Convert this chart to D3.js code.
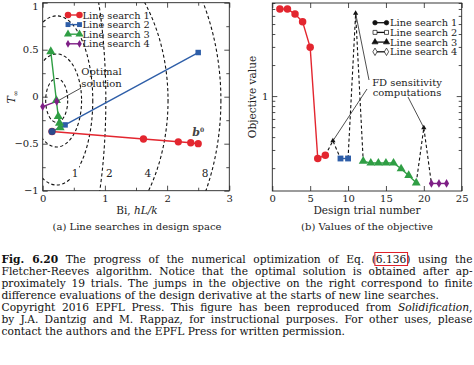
<!DOCTYPE html>
<html>
<head>
<meta charset="utf-8">
<script src="https://cdn.jsdelivr.net/npm/d3@7"></script>
<style>
  body { margin: 0; background: #fff; }
  svg { display: block; font-family: "DejaVu Serif", serif; }
</style>
</head>
<body>
<div id="fig"></div>
<script>
// ---------- data, panel (a): design space ----------
const ls1 = [[2.5, -0.5], [2.38, -0.49], [2.18, -0.48], [1.62, -0.45], [0.15, -0.37]];
const ls2 = [[0.15, -0.37], [0.36, -0.30], [2.5, 0.47]];
const ls3 = [[0.28, -0.33], [0.27, -0.28], [0.25, -0.21], [0.22, -0.04], [0.13, 0.48]];
const ls4 = [[0.225, -0.05], [0.0, -0.105]];
const contourCenter = [0.225, -0.04];
const contourRx = [0.177, 0.40, 0.58, 0.79, 1.79, 2.64];
const contourRy = [0.234, 0.495, 0.90, 2.0, 1.7, 2.3];
const contourLabels = ["", "", "1", "2", "4", "8"];
const contourLabelX = [null, null, 0.52, 1.07, 1.69, 2.61];
const contourLabelY = -0.81;
const optimum = [0.225, -0.05];

// ---------- data, panel (b): objective ----------
const trial = [1, 2, 3, 4, 5, 6, 7, 8, 9, 10, 11, 12, 13, 14, 15, 16, 17, 18, 19, 20, 21, 22, 23];
const objective = [7.0, 7.0, 6.25, 5.26, 2.97, 0.248, 0.267, 0.368, 0.248, 0.248, 6.35, 0.234,
                   0.224, 0.224, 0.224, 0.224, 0.197, 0.170, 0.144, 0.493, 0.142, 0.142, 0.142];
// 0 = finite-difference sensitivity evaluation
const search = [1, 1, 1, 1, 1, 1, 1, 0, 2, 2, 0, 3, 3, 3, 3, 3, 3, 3, 3, 0, 4, 4, 4];

const seriesNames = ["Line search 1", "Line search 2", "Line search 3", "Line search 4"];
const colors = ["#e3262f", "#2e5ea8", "#2f9e44", "#7e1f86"];
const symbols = [d3.symbolCircle, d3.symbolSquare, d3.symbolTriangle, d3.symbolDiamond];

const ticksAx = [0, 1, 2, 3], minorAx = [0.5, 1.5, 2.5];
const ticksAy = [-1, -0.5, 0, 0.5, 1], minorAy = [-0.75, -0.25, 0.25, 0.75];
const ticksBx = [0, 5, 10, 15, 20, 25];
const ticksBy = [1], minorBy = [0.2, 0.3, 0.4, 0.5, 0.6, 0.7, 0.8, 0.9, 2, 3, 4, 5, 6, 7, 8];

const caption = [
  [["Fig. 6.20", "b"], [" The progress of the numerical optimization of Eq. (", ""], ["6.136", "box"], [") using the", ""]],
  [["Fletcher-Reeves algorithm. Notice that the optimal solution is obtained after ap-", ""]],
  [["proximately 19 trials. The jumps in the objective on the right correspond to finite", ""]],
  [["difference evaluations of the design derivative at the starts of new line searches.", ""]],
  [["Copyright 2016 EPFL Press. This figure has been reproduced from ", ""], ["Solidification", "i"], [",", ""]],
  [["by J.A. Dantzig and M. Rappaz, for instructional purposes. For other uses, please", ""]],
  [["contact the authors and the EPFL Press for written permission.", ""]]
];
const justified = [true, true, true, false, true, true, false];

const W = 474, H = 365;
const svg = d3.select("#fig").append("svg").attr("width", W).attr("height", H);

const tickStyle = g => {
  g.select(".domain").remove();
  g.selectAll(".tick line").attr("stroke", "#222").attr("stroke-width", 0.8);
  g.selectAll(".tick text").attr("fill", "#222").attr("font-size", 10).attr("font-family", "DejaVu Serif, serif");
};

function frame(g, x, y, majX, minX, majY, minY, fmtY) {
  const [x0, x1] = x.range(), [y0, y1] = y.range();
  g.append("g").attr("transform", `translate(0,${y0})`)
    .call(d3.axisBottom(x).tickValues(majX).tickSize(-5).tickPadding(4).tickFormat(d3.format("~g"))).call(tickStyle);
  g.append("g").attr("transform", `translate(0,${y1})`)
    .call(d3.axisTop(x).tickValues(majX).tickSize(-5).tickFormat("")).call(tickStyle);
  if (minX.length) {
    g.append("g").attr("transform", `translate(0,${y0})`)
      .call(d3.axisBottom(x).tickValues(minX).tickSize(-3).tickFormat("")).call(tickStyle);
    g.append("g").attr("transform", `translate(0,${y1})`)
      .call(d3.axisTop(x).tickValues(minX).tickSize(-3).tickFormat("")).call(tickStyle);
  }
  g.append("g").attr("transform", `translate(${x0},0)`)
    .call(d3.axisLeft(y).tickValues(majY).tickSize(-5).tickPadding(4).tickFormat(fmtY)).call(tickStyle)
    // keep the topmost label inside the picture
    .selectAll(".tick text").attr("dy", d => y(d) < 6 ? "0.68em" : "0.32em");
  g.append("g").attr("transform", `translate(${x1},0)`)
    .call(d3.axisRight(y).tickValues(majY).tickSize(-5).tickFormat("")).call(tickStyle);
  g.append("g").attr("transform", `translate(${x0},0)`)
    .call(d3.axisLeft(y).tickValues(minY).tickSize(-3).tickFormat("")).call(tickStyle);
  g.append("g").attr("transform", `translate(${x1},0)`)
    .call(d3.axisRight(y).tickValues(minY).tickSize(-3).tickFormat("")).call(tickStyle);
  g.append("rect").attr("x", x0).attr("y", y1).attr("width", x1 - x0).attr("height", y0 - y1)
    .attr("fill", "none").attr("stroke", "#222").attr("stroke-width", 0.9);
}

// ================= panel (a) =================
const xa = d3.scaleLinear().domain([0, 3]).range([42.7, 229.3]);
const ya = d3.scaleLinear().domain([-1, 1]).range([190.7, 2.7]);
const ga = svg.append("g");

ga.append("clipPath").attr("id", "clipA").append("rect")
  .attr("x", xa(0)).attr("y", ya(1)).attr("width", xa(3) - xa(0)).attr("height", ya(-1) - ya(1));

const cont = ga.append("g").attr("clip-path", "url(#clipA)");
cont.selectAll("ellipse").data(contourRx).join("ellipse")
  .attr("cx", xa(contourCenter[0])).attr("cy", ya(contourCenter[1]))
  .attr("rx", d => xa(contourCenter[0] + d) - xa(contourCenter[0]))
  .attr("ry", (d, i) => ya(contourCenter[1]) - ya(contourCenter[1] + contourRy[i]))
  .attr("fill", "none").attr("stroke", "#111").attr("stroke-width", 1.1).attr("stroke-dasharray", "3.2,2.4");

contourLabels.forEach((t, i) => {
  if (!t) return;
  const cx = xa(contourLabelX[i]), cy = ya(contourLabelY);
  cont.append("rect").attr("x", cx - 4).attr("y", cy - 7).attr("width", 8).attr("height", 13).attr("fill", "#fff");
  cont.append("text").attr("x", cx).attr("y", cy + 4).attr("text-anchor", "middle")
    .attr("font-size", 10.5).attr("fill", "#222").text(t);
});

frame(ga, xa, ya, ticksAx, minorAx, ticksAy, minorAy, d3.format("~g"));

const lineA = d3.line().x(d => xa(d[0])).y(d => ya(d[1]));
const markSize = [42, 30, 36, 22];
[ls1, ls2, ls3, ls4].forEach((pts, i) => {
  ga.append("path").datum(pts).attr("d", lineA).attr("fill", "none")
    .attr("stroke", colors[i]).attr("stroke-width", 1.4);
});
[ls1, ls2, ls3, ls4].forEach((pts, i) => {
  // the start of line search 2 is drawn as a dark round marker in the reference
  const isStart = j => i === 1 && j === 0;
  ga.selectAll(null).data(pts).join("path")
    .attr("transform", d => `translate(${xa(d[0])},${ya(d[1])})`)
    .attr("d", (d, j) => d3.symbol(isStart(j) ? d3.symbolCircle : symbols[i], isStart(j) ? 40 : markSize[i])())
    .attr("fill", (d, j) => isStart(j) ? "#2b4a8c" : colors[i]);
});

// b0 label
ga.append("text").attr("x", xa(ls1[0][0])).attr("y", ya(ls1[0][1]) - 8)
  .attr("text-anchor", "middle").attr("font-size", 11).attr("font-style", "italic").attr("font-weight", "bold").attr("fill", "#444")
  .text("b").append("tspan").attr("dy", -4).attr("font-size", 6).attr("font-style", "normal").text("0");

// optimal solution annotation
ga.append("line").attr("x1", 81).attr("y1", 88).attr("x2", xa(optimum[0]) + 2).attr("y2", ya(optimum[1]) - 1)
  .attr("stroke", "#222").attr("stroke-width", 0.8);
ga.append("text").attr("x", 101.5).attr("y", 75).attr("text-anchor", "middle").attr("font-size", 10).attr("fill", "#222").text("Optimal");
ga.append("text").attr("x", 101.5).attr("y", 87).attr("text-anchor", "middle").attr("font-size", 10).attr("fill", "#222").text("solution");

// legend (a)
const legA = ga.append("g");
seriesNames.forEach((n, i) => {
  const yy = 15 + i * 9.6;
  legA.append("line").attr("x1", 68).attr("x2", 79.5).attr("y1", yy).attr("y2", yy).attr("stroke", colors[i]).attr("stroke-width", 1.4);
  [68, 79.5].forEach(xx => legA.append("path").attr("transform", `translate(${xx},${yy})`)
    .attr("d", d3.symbol(symbols[i], markSize[i] * 0.8)()).attr("fill", colors[i]));
  legA.append("text").attr("x", 82.5).attr("y", yy + 3.5).attr("font-size", 9.8).attr("fill", "#222").text(n);
});

// axis labels (a)
const xlab = ga.append("text").attr("x", 137).attr("y", 214).attr("text-anchor", "middle").attr("font-size", 10.5).attr("fill", "#222");
xlab.append("tspan").text("Bi, ");
xlab.append("tspan").attr("font-style", "italic").text("hL/k");
const ylab = ga.append("text").attr("transform", "translate(15,97) rotate(-90)").attr("text-anchor", "middle")
  .attr("font-size", 11).attr("fill", "#222");
ylab.append("tspan").attr("font-style", "italic").text("T");
ylab.append("tspan").attr("font-size", 7).attr("dy", 2.5).text("∞");
ga.append("text").attr("x", 137).attr("y", 230).attr("text-anchor", "middle").attr("font-size", 10).attr("fill", "#222")
  .text("(a) Line searches in design space");

// ================= panel (b) =================
const xb = d3.scaleLinear().domain([0, 25]).range([272.3, 461.7]);
const yb = d3.scaleLog().domain([0.12, 8]).range([191, 3]);
const gb = svg.append("g");

frame(gb, xb, yb, ticksBx, [], ticksBy, minorBy, d3.format("~g"));

const lineB = d3.line().x(d => xb(d.n)).y(d => yb(d.v));
const pts = trial.map((n, i) => ({ n, v: objective[i], s: search[i] }));

// finite-difference jumps (dashed)
pts.forEach((p, i) => {
  if (p.s !== 0) return;
  gb.append("path").datum([pts[i - 1], p, pts[i + 1]]).attr("d", lineB).attr("fill", "none")
    .attr("stroke", "#111").attr("stroke-width", 1.1).attr("stroke-dasharray", "3.2,2.4");
});
[1, 2, 3, 4].forEach(s => {
  const seg = pts.filter(p => p.s === s);
  gb.append("path").datum(seg).attr("d", lineB).attr("fill", "none").attr("stroke", colors[s - 1]).attr("stroke-width", 1.4);
  gb.selectAll(null).data(seg).join("path")
    .attr("transform", d => `translate(${xb(d.n)},${yb(d.v)})`)
    .attr("d", d3.symbol(symbols[s - 1], [44, 34, 34, 22][s - 1])).attr("fill", colors[s - 1]);
});
gb.selectAll(null).data(pts.filter(p => p.s === 0)).join("path")
  .attr("transform", d => `translate(${xb(d.n)},${yb(d.v)})`)
  .attr("d", d3.symbol(d3.symbolTriangle, 12)).attr("fill", "#111");

// FD annotation
const fd = pts.filter(p => p.s === 0);
const fdStart = [[367, 89], [369, 80], [408, 97]];
fd.forEach((p, i) => {
  gb.append("line").attr("x1", fdStart[i][0]).attr("y1", fdStart[i][1]).attr("x2", xb(p.n)).attr("y2", yb(p.v))
    .attr("stroke", "#222").attr("stroke-width", 0.8);
});
gb.append("rect").attr("x", 370).attr("y", 75).attr("width", 72).attr("height", 22).attr("fill", "#fff");
gb.append("text").attr("x", 407).attr("y", 86).attr("text-anchor", "middle").attr("font-size", 10).attr("fill", "#222").text("FD sensitivity");
gb.append("text").attr("x", 407).attr("y", 96).attr("text-anchor", "middle").attr("font-size", 10).attr("fill", "#222").text("computations");

// legend (b)
const legB = gb.append("g");
const openSym = [false, true, false, true];
seriesNames.forEach((n, i) => {
  const yy = 22.7 + i * 9.7;
  legB.append("line").attr("x1", 375).attr("x2", 386.5).attr("y1", yy).attr("y2", yy).attr("stroke", "#111").attr("stroke-width", 1.3);
  [375, 386.5].forEach(xx => legB.append("path").attr("transform", `translate(${xx},${yy})`)
    .attr("d", d3.symbol(symbols[i], 16)()).attr("fill", openSym[i] ? "#fff" : "#111").attr("stroke", "#111").attr("stroke-width", 0.7));
  legB.append("text").attr("x", 390).attr("y", yy + 3.5).attr("font-size", 9.8).attr("fill", "#222").text(n);
});

gb.append("text").attr("x", 367).attr("y", 214).attr("text-anchor", "middle").attr("font-size", 10.5).attr("fill", "#222").text("Design trial number");
gb.append("text").attr("transform", "translate(256,97) rotate(-90)").attr("text-anchor", "middle")
  .attr("font-size", 10.5).attr("fill", "#222").text("Objective value");
gb.append("text").attr("x", 367).attr("y", 230).attr("text-anchor", "middle").attr("font-size", 10).attr("fill", "#222")
  .text("(b) Values of the objective");

// ================= caption =================
const gc = svg.append("g").attr("fill", "#111");
const lines = caption.map((segs, k) => {
  const t = gc.append("text").attr("x", 1.5).attr("y", 262.5 + k * 12.1).attr("font-size", 10);
  segs.forEach(([txt, st]) => {
    const ts = t.append("tspan").text(txt);
    if (st === "b") ts.attr("font-weight", "bold");
    if (st === "i") ts.attr("font-style", "italic");
    if (st === "box") ts.attr("class", "boxed");
  });
  return t;
});
// fit font so line 4 (unjustified) has the reference width
const w4 = lines[3].node().getComputedTextLength();
const fs = 10 * 438 / w4;
lines.forEach((t, k) => {
  t.attr("font-size", fs);
  if (!justified[k]) return;
  const w = t.node().getComputedTextLength();
  const spaces = caption[k].map(s => s[0]).join("").split(" ").length - 1;
  t.attr("word-spacing", (471 - w) / spaces);
});
const bx = gc.select(".boxed").node().getBBox();
gc.append("rect").attr("x", bx.x - 1).attr("y", bx.y).attr("width", bx.width + 2).attr("height", bx.height)
  .attr("fill", "none").attr("stroke", "#e0202a").attr("stroke-width", 1);
</script>
</body>
</html>
